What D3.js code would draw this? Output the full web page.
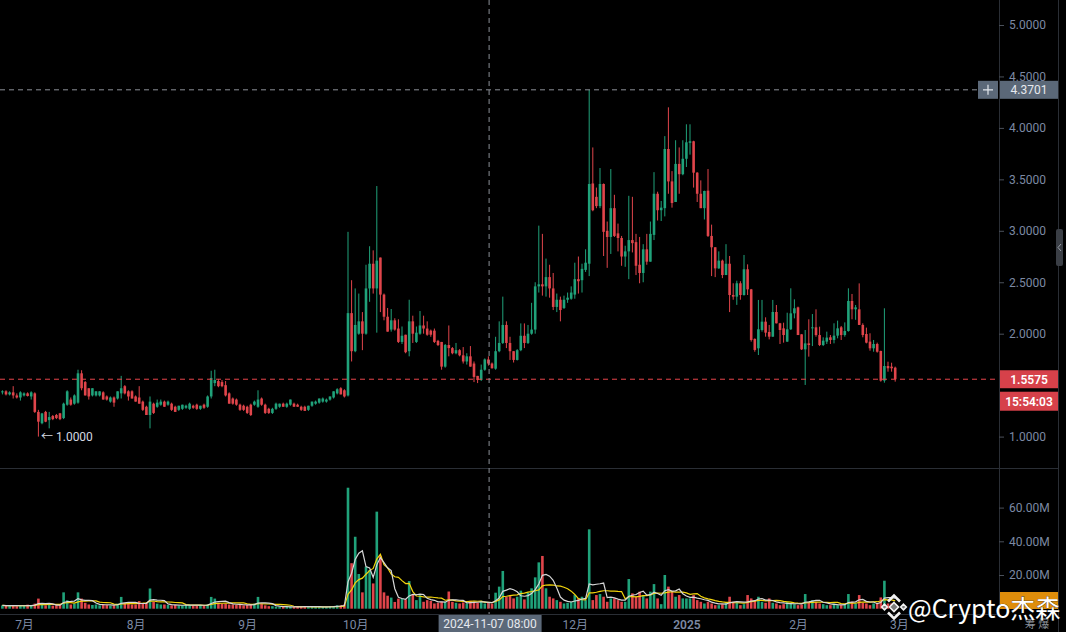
<!DOCTYPE html>
<html lang="zh">
<head>
<meta charset="utf-8">
<title>Daily candles</title>
<script src="https://d3js.org/d3.v7.min.js"></script>
<style>
  body { margin: 0; background: #000; overflow: hidden; }
  text { font-family: Roboto, "Noto Sans CJK SC", sans-serif; }
</style>
</head>
<body>
<svg id="chart"></svg>
<script>
// first candle is 2024-06-25, one candle per day
const startDay = Date.UTC(2024, 5, 25);

// [open, high, low, close]
const ohlc = [
  [1.43,1.45,1.41,1.44],[1.44,1.45,1.40,1.41],[1.41,1.44,1.40,1.43],[1.43,1.49,1.37,1.40],[1.40,1.42,1.37,1.38],
  [1.38,1.44,1.35,1.43],[1.40,1.43,1.39,1.42],[1.42,1.43,1.39,1.395],[1.39,1.44,1.36,1.43],
  // jul 4
  [1.42,1.43,1.23,1.24],[1.24,1.26,1.00,1.145],[1.13,1.23,1.12,1.225],[1.24,1.25,1.14,1.145],[1.16,1.24,1.08,1.19],
  [1.20,1.21,1.16,1.17],[1.21,1.22,1.17,1.18],[1.226,1.23,1.16,1.17],[1.18,1.33,1.17,1.32],[1.31,1.45,1.30,1.44],
  [1.36,1.38,1.30,1.31],[1.32,1.41,1.31,1.40],[1.33,1.65,1.32,1.615],[1.615,1.645,1.45,1.47],[1.53,1.54,1.40,1.40],
  [1.47,1.47,1.36,1.39],[1.40,1.47,1.39,1.47],[1.40,1.44,1.39,1.44],[1.40,1.44,1.39,1.44],[1.43,1.44,1.36,1.36],
  [1.39,1.40,1.35,1.36],[1.34,1.39,1.33,1.38],[1.38,1.39,1.29,1.33],[1.37,1.44,1.36,1.44],[1.42,1.59,1.37,1.47],
  [1.49,1.50,1.41,1.42],[1.44,1.45,1.35,1.39],[1.44,1.45,1.37,1.37],[1.39,1.40,1.34,1.34],[1.38,1.49,1.32,1.32],
  // aug 3
  [1.34,1.35,1.25,1.26],[1.29,1.30,1.21,1.21],[1.21,1.39,1.08,1.34],[1.32,1.33,1.22,1.23],[1.29,1.36,1.28,1.33],
  [1.31,1.36,1.30,1.34],[1.34,1.35,1.29,1.29],[1.31,1.35,1.30,1.34],[1.32,1.33,1.25,1.26],[1.29,1.30,1.24,1.24],
  [1.26,1.30,1.25,1.30],[1.27,1.31,1.26,1.31],[1.28,1.31,1.27,1.30],[1.27,1.33,1.26,1.32],[1.30,1.31,1.27,1.28],
  [1.31,1.32,1.26,1.27],[1.27,1.30,1.26,1.30],[1.31,1.32,1.27,1.28],[1.29,1.40,1.28,1.39],[1.39,1.64,1.37,1.57],
  [1.52,1.65,1.49,1.55],[1.54,1.56,1.48,1.49],[1.53,1.55,1.48,1.49],[1.50,1.54,1.39,1.40],[1.42,1.43,1.32,1.32],
  [1.37,1.38,1.31,1.32],[1.36,1.37,1.30,1.31],[1.31,1.32,1.25,1.26],[1.30,1.31,1.25,1.26],[1.29,1.30,1.22,1.23],
  // sep 2
  [1.31,1.32,1.20,1.21],[1.31,1.35,1.30,1.34],[1.29,1.45,1.28,1.36],[1.37,1.38,1.30,1.31],[1.31,1.32,1.22,1.23],
  [1.27,1.28,1.22,1.23],[1.23,1.28,1.22,1.27],[1.27,1.33,1.26,1.32],[1.29,1.32,1.28,1.32],[1.32,1.33,1.29,1.29],
  [1.29,1.33,1.28,1.32],[1.31,1.36,1.30,1.36],[1.32,1.33,1.29,1.29],[1.31,1.32,1.29,1.29],[1.29,1.30,1.25,1.26],
  [1.29,1.30,1.25,1.25],[1.26,1.30,1.25,1.30],[1.30,1.34,1.29,1.34],[1.32,1.35,1.31,1.34],[1.33,1.37,1.32,1.37],
  [1.34,1.38,1.33,1.37],[1.34,1.37,1.33,1.36],[1.36,1.39,1.35,1.39],[1.38,1.44,1.37,1.44],[1.42,1.47,1.41,1.46],
  [1.47,1.48,1.41,1.41],[1.45,1.46,1.38,1.39],
  // sep 28
  [1.40,2.99,1.39,2.20],[2.20,2.52,1.73,1.83],[1.83,2.44,1.82,2.085],[2.00,2.39,1.99,2.12],[2.12,2.21,1.84,2.00],
  [2.00,2.67,1.99,2.44],[2.44,2.85,2.31,2.68],[2.68,2.81,2.39,2.44],[2.44,3.435,2.01,2.71],[2.74,2.74,2.21,2.38],
  [2.38,2.39,2.13,2.165],[2.165,2.25,2.02,2.02],[2.04,2.24,2.02,2.13],[2.13,2.15,2.03,2.04],[2.05,2.14,1.91,1.92],
  [1.92,2.07,1.90,1.98],[1.99,1.99,1.81,1.82],[1.83,2.33,1.78,2.12],[2.12,2.175,1.91,2.00],[1.92,2.07,1.91,2.01],
  [2.00,2.22,1.99,2.08],[2.08,2.175,2.00,2.05],[2.05,2.12,1.98,1.99],[2.03,2.04,1.97,1.99],[2.03,2.05,1.91,1.92],
  [1.93,1.94,1.88,1.89],[1.92,1.92,1.65,1.68],[1.68,1.90,1.67,1.89],[1.89,2.08,1.78,1.86],[1.86,1.87,1.80,1.81],
  [1.81,1.91,1.80,1.84],[1.84,1.85,1.78,1.79],[1.79,1.87,1.71,1.73],[1.73,1.81,1.70,1.78],[1.78,1.88,1.68,1.68],
  [1.71,1.73,1.53,1.58],[1.59,1.59,1.52,1.55],[1.55,1.70,1.54,1.65],[1.65,1.76,1.64,1.75],[1.75,1.78,1.69,1.71],
  // nov 8
  [1.71,1.72,1.66,1.665],[1.66,1.97,1.65,1.83],[1.83,2.12,1.82,1.91],[1.91,2.36,1.90,2.085],[2.085,2.12,1.86,1.91],
  [1.91,1.97,1.745,1.83],[1.83,1.83,1.72,1.745],[1.745,1.85,1.74,1.84],[1.84,2.10,1.83,1.98],[1.98,2.10,1.86,1.91],
  [1.91,2.085,1.90,2.00],[2.00,2.30,1.99,2.04],[2.04,2.50,2.00,2.46],[2.46,3.05,2.40,2.48],[2.48,2.97,2.37,2.46],
  [2.46,2.73,2.36,2.55],[2.55,2.67,2.35,2.44],[2.44,2.59,2.23,2.26],[2.26,2.39,2.21,2.33],[2.33,2.36,2.12,2.23],
  [2.25,2.37,2.24,2.33],[2.33,2.40,2.30,2.35],
  // nov 30
  [2.34,2.46,2.33,2.40],[2.38,2.69,2.34,2.53],[2.53,2.75,2.39,2.51],[2.52,2.68,2.40,2.63],[2.62,2.82,2.60,2.69],
  [2.68,4.3701,2.56,3.455],[3.46,3.81,3.19,3.20],[3.33,3.42,3.22,3.24],[3.24,3.61,3.22,3.455],[3.455,3.46,2.755,2.99],
  [3.00,3.09,2.64,2.94],[2.94,3.60,2.775,3.22],[3.22,3.35,2.94,2.95],[2.975,3.07,2.80,2.93],[2.93,2.95,2.66,2.75],
  [2.75,2.855,2.65,2.80],[2.80,3.34,2.53,2.91],[2.91,3.33,2.79,2.88],[2.89,2.97,2.57,2.66],[2.67,2.94,2.49,2.59],
  [2.59,2.87,2.50,2.82],[2.82,2.97,2.67,2.70],[2.70,3.09,2.70,2.97],[2.96,3.57,2.91,3.36],[3.36,3.38,3.10,3.20],
  [3.20,3.29,3.095,3.225],[3.22,3.92,3.14,3.795],[3.795,4.20,3.36,3.48],[3.48,3.58,3.225,3.27],[3.28,3.88,3.28,3.65],
  [3.65,3.81,3.36,3.55],[3.55,3.88,3.54,3.70],[3.70,4.035,3.62,3.86],[3.855,4.035,3.74,3.87],[3.87,3.875,3.42,3.565],
  [3.565,3.57,3.28,3.36],[3.36,3.49,3.22,3.22],[3.22,3.39,3.11,3.387],
  // jan 7
  [3.39,3.60,2.94,2.95],[2.95,3.06,2.56,2.84],[2.84,2.84,2.55,2.635],[2.635,2.80,2.63,2.71],[2.71,2.72,2.54,2.57],
  [2.57,2.87,2.57,2.68],[2.68,2.755,2.21,2.376],[2.376,2.49,2.33,2.36],[2.36,2.515,2.28,2.49],[2.49,2.51,2.33,2.376],
  [2.376,2.765,2.37,2.626],[2.626,2.674,2.376,2.431],[2.431,2.435,1.923,1.939],[1.949,1.955,1.825,1.842],[1.858,2.328,1.793,2.043],
  [2.036,2.328,2.02,2.117],[2.117,2.159,1.971,2.01],[2.017,2.085,1.945,1.971],[1.971,2.328,1.97,2.211],[2.211,2.279,2.10,2.101],
  [2.101,2.105,1.90,2.036],[2.052,2.107,1.913,1.987],[1.923,2.204,1.92,2.043],[2.043,2.441,2.036,2.198],[2.198,2.334,2.149,2.247],
  [2.256,2.263,1.987,1.987],[1.994,1.995,1.842,1.848],[1.848,2.036,1.502,1.906],[1.906,2.140,1.777,1.890],[2.062,2.191,1.880,2.062],
  [2.062,2.237,1.971,1.987],[1.987,2.068,1.880,1.890],[1.890,1.965,1.880,1.932],[1.923,2.02,1.90,1.962],[1.965,1.987,1.90,1.939],
  [1.939,2.101,1.906,1.981],[1.981,2.127,1.955,2.052],[2.062,2.075,1.939,1.987],[1.987,2.11,1.971,2.026],[2.026,2.441,2.02,2.318],
  [2.318,2.386,2.14,2.237],[2.237,2.279,2.135,2.256],[2.237,2.489,2.085,2.085],[2.085,2.101,1.965,1.987],[1.997,2.059,1.906,1.913],
  [1.923,2.004,1.835,1.858],[1.858,1.939,1.825,1.90],[1.90,1.913,1.816,1.825],[1.832,1.835,1.534,1.544],[1.544,2.247,1.524,1.686],
  [1.686,1.728,1.631,1.664],[1.68,1.718,1.631,1.664],[1.670,1.68,1.534,1.5575]
];

// daily volume, millions
const volume = [
  2.0,1.6,1.8,2.2,1.5,1.7,1.6,2.4,2.0,
  3.0,6.0,2.2,2.0,2.5,1.8,2.0,2.3,
  9.7,5.0,2.5,3.0,9.7,6.0,
  3.5,2.5,2.2,2.5,2.0,2.8,2.2,1.8,2.0,3.0,
  7.0,3.5,3.0,2.5,2.5,4.5,3.0,3.5,
  12.0,
  4.0,3.0,2.5,2.5,2.2,2.0,2.2,1.8,2.0,2.4,2.2,2.0,1.8,2.2,2.0,2.5,
  7.0,6.0,
  3.5,3.0,3.0,2.5,2.5,2.2,2.5,2.0,2.2,2.5,3.0,
  7.0,
  3.0,2.0,1.5,1.5,1.2,1.2,1.0,1.0,1.2,1.0,1.0,1.2,1.5,1.2,1.0,1.0,1.2,1.0,1.0,1.5,1.5,2.0,2.0,2.5,
  71.8,27.0,42.7,20.6,9.7,24.9,22.9,15.0,57.6,31.3,
  9.7,7.7,6.6,4.0,6.0,6.0,5.5,16.4,8.5,5.1,
  8.0,4.1,5.1,4.6,3.1,3.5,4.1,4.1,10.2,4.1,
  3.5,3.1,3.7,3.1,4.7,4.1,3.5,
  4.7,3.1,3.5,3.0,9.5,13.1,22.4,7.1,7.5,6.1,
  7.1,10.7,5.5,9.5,12.1,18.6,27.5,31.3,12.1,7.1,
  6.1,5.1,4.1,3.1,3.5,4.1,8.1,6.1,7.1,5.1,
  47.1,5.1,8.1,8.7,7.1,4.1,6.1,6.1,5.1,4.1,
  4.1,17.6,9.1,7.1,10.1,8.1,6.1,10.1,14.6,6.1,
  2.7,20.0,13.1,10.1,7.1,8.1,6.1,6.1,6.1,8.1,
  5.1,4.1,3.1,4.1,3.1,2.1,2.1,2.7,3.5,7.1,
  4.1,3.5,2.1,2.7,8.1,6.1,4.7,7.1,4.1,3.5,
  6.1,3.5,3.1,2.1,2.7,4.1,3.1,2.7,2.1,2.5,
  8.7,4.1,5.1,4.1,3.1,2.7,2.1,2.1,3.1,2.1,
  2.1,2.5,8.7,4.1,3.1,8.1,3.5,3.1,2.1,3.1,
  3.1,6.7,16.6,3.1,3.1,2.1
];

const priceTicks = [1, 2, 2.5, 3, 3.5, 4, 4.5, 5];
const volumeTicks = [20, 40, 60];
// 11月 sits under the crosshair date label, so it is not drawn
const monthTicks = [
  ["2024-07-01", "7月"], ["2024-08-01", "8月"], ["2024-09-01", "9月"], ["2024-10-01", "10月"],
  ["2024-12-01", "12月"], ["2025-01-01", "2025"], ["2025-02-01", "2月"], ["2025-03-01", "3月"]
];
const lastPrice = 1.5575;
const countdown = "15:54:03";
const crossPrice = 4.3701;
const crossDate = "2024-11-07";
const crossLabel = "2024-11-07 08:00";
const lowMark = 1.0;

const W = 1066, H = 632;
const plotRight = 999;
const green = "#20a27a", red = "#e0454b";
const axisText = "#7c89a3", lineCol = "#2a2e35";

const candles = ohlc.map((d, i) => ({
  date: new Date(startDay + i * 864e5),
  o: d[0], h: d[1], l: d[2], c: d[3], v: volume[i]
}));

const svg = d3.select("#chart").attr("width", W).attr("height", H);
svg.append("rect").attr("width", W).attr("height", H).attr("fill", "#000");

const x = d3.scaleUtc()
  .domain([startDay, Date.UTC(2025, 2, 1)])
  .range([2.4, 898.8]);
const bw = 2.6;

const yP = d3.scaleLinear().domain([1, 5]).range([436.6, 25]);
const yV = d3.scaleLinear().domain([0, 60]).range([608.7, 507.6]);

// panel frame
svg.append("line").attr("x1", 0).attr("x2", 1058).attr("y1", 468.5).attr("y2", 468.5).attr("stroke", lineCol);
svg.append("line").attr("x1", 0).attr("x2", plotRight).attr("y1", 614.5).attr("y2", 614.5).attr("stroke", lineCol);
svg.append("line").attr("x1", plotRight + 0.5).attr("x2", plotRight + 0.5).attr("y1", 0).attr("y2", 614).attr("stroke", lineCol);
svg.append("line").attr("x1", 1058.5).attr("x2", 1058.5).attr("y1", 0).attr("y2", H).attr("stroke", lineCol);
svg.append("rect").attr("x", 1056).attr("y", 229).attr("width", 7).attr("height", 37).attr("rx", 2).attr("fill", "#3a3e45");
svg.append("path").attr("d", "M1061,244 L1058,247.5 L1061,251").attr("fill", "none").attr("stroke", "#9aa0a8").attr("stroke-width", 1);

// candles
const cg = svg.append("g");
cg.selectAll("line.wick").data(candles).join("line")
  .attr("class", "wick")
  .attr("x1", d => x(d.date)).attr("x2", d => x(d.date))
  .attr("y1", d => yP(d.h)).attr("y2", d => yP(d.l))
  .attr("stroke", d => d.c >= d.o ? green : red)
  .attr("stroke-width", 1);
cg.selectAll("rect.body").data(candles).join("rect")
  .attr("class", "body")
  .attr("x", d => x(d.date) - bw / 2)
  .attr("width", bw)
  .attr("y", d => yP(Math.max(d.o, d.c)))
  .attr("height", d => Math.max(1, Math.abs(yP(d.o) - yP(d.c))))
  .attr("fill", d => d.c >= d.o ? green : red);

// volume bars
svg.append("g").selectAll("rect").data(candles).join("rect")
  .attr("x", d => x(d.date) - bw / 2)
  .attr("width", bw)
  .attr("y", d => yV(d.v))
  .attr("height", d => yV(0) - yV(d.v))
  .attr("fill", d => d.c >= d.o ? green : red);

// volume moving averages
function movingAvg(n) {
  return candles.map((d, i) => {
    const win = candles.slice(Math.max(0, i - n + 1), i + 1);
    return { date: d.date, v: d3.mean(win, w => w.v) };
  });
}
const maLine = d3.line().x(d => x(d.date)).y(d => yV(d.v));
svg.append("path").attr("d", maLine(movingAvg(10)))
  .attr("fill", "none").attr("stroke", "#f2d40c").attr("stroke-width", 1.2);
svg.append("path").attr("d", maLine(movingAvg(5)))
  .attr("fill", "none").attr("stroke", "#d6d6d6").attr("stroke-width", 1.2);

// price axis
const pAxis = svg.append("g").attr("transform", `translate(${plotRight},0)`)
  .call(d3.axisRight(yP).tickValues(priceTicks).tickSize(5).tickPadding(5).tickFormat(d3.format(".4f")));
pAxis.select(".domain").remove();
pAxis.selectAll("line").attr("stroke", "#4a505a");
pAxis.selectAll("text").attr("fill", axisText).style("font-size", "12px");

// volume axis
const vAxis = svg.append("g").attr("transform", `translate(${plotRight},0)`)
  .call(d3.axisRight(yV).tickValues(volumeTicks).tickSize(5).tickPadding(5).tickFormat(d => d.toFixed(2) + "M"));
vAxis.select(".domain").remove();
vAxis.selectAll("line").attr("stroke", "#4a505a");
vAxis.selectAll("text").attr("fill", axisText).style("font-size", "12px");

// time axis
const tAxis = svg.append("g").attr("transform", "translate(0,614)")
  .call(d3.axisBottom(x)
    .tickValues(monthTicks.map(m => new Date(m[0] + "T00:00:00Z")))
    .tickSize(0).tickPadding(6)
    .tickFormat((d, i) => monthTicks[i][1]));
tAxis.select(".domain").remove();
tAxis.selectAll("text").attr("fill", axisText).style("font-size", "12px")
  .style("font-weight", (d, i) => monthTicks[i][1] === "2025" ? "600" : "400");

// last price line and labels
const yLast = yP(lastPrice);
svg.append("line").attr("x1", 0).attr("x2", plotRight).attr("y1", yLast).attr("y2", yLast)
  .attr("stroke", "#e8454c").attr("stroke-dasharray", "5,4");
svg.append("rect").attr("x", 1000).attr("y", yLast - 9).attr("width", 58).attr("height", 18).attr("fill", "#d6414a");
svg.append("text").attr("x", 1029).attr("y", yLast + 4.5).attr("text-anchor", "middle")
  .attr("fill", "#fff").style("font-size", "12px").style("font-weight", "600").text(lastPrice.toFixed(4));
svg.append("rect").attr("x", 1000).attr("y", yLast + 12.5).attr("width", 58).attr("height", 19).attr("fill", "#d6414a");
svg.append("text").attr("x", 1029).attr("y", yLast + 26.5).attr("text-anchor", "middle")
  .attr("fill", "#fff").style("font-size", "12px").style("font-weight", "600").text(countdown);

// crosshair
const xCross = x(new Date(crossDate + "T08:00:00Z")) - 0.5;
const yCross = yP(crossPrice);
svg.append("line").attr("x1", xCross).attr("x2", xCross).attr("y1", 0).attr("y2", 614)
  .attr("stroke", "#8c9098").attr("stroke-dasharray", "5,4");
svg.append("line").attr("x1", 0).attr("x2", 978).attr("y1", yCross).attr("y2", yCross)
  .attr("stroke", "#8c9098").attr("stroke-dasharray", "5,4");
svg.append("rect").attr("x", 978).attr("y", yCross - 9).attr("width", 20).attr("height", 18).attr("fill", "#5b6878");
svg.append("path").attr("d", `M983,${yCross}H993M988,${yCross - 5}V${yCross + 5}`)
  .attr("stroke", "#e2e6ec").attr("stroke-width", 1.2);
svg.append("rect").attr("x", 1000).attr("y", yCross - 9).attr("width", 58).attr("height", 18).attr("fill", "#5b6878");
svg.append("text").attr("x", 1029).attr("y", yCross + 4.5).attr("text-anchor", "middle")
  .attr("fill", "#e6e9ee").style("font-size", "12px").text(crossPrice.toFixed(4));
svg.append("rect").attr("x", xCross - 50.5).attr("y", 615).attr("width", 103).attr("height", 17).attr("fill", "#5b6878");
svg.append("text").attr("x", xCross + 1).attr("y", 628).attr("text-anchor", "middle")
  .attr("fill", "#e6e9ee").style("font-size", "12px").text(crossLabel);

// low marker
svg.append("text").attr("x", 41).attr("y", yP(lowMark) + 4)
  .attr("fill", "#d5d9e0").style("font-size", "12px").text("← " + lowMark.toFixed(4));

// volume label box and watermark
svg.append("rect").attr("x", 1000).attr("y", 592).attr("width", 58).attr("height", 17).attr("fill", "#de8d0b");
svg.append("text").attr("x", 1037).attr("y", 628).attr("text-anchor", "middle")
  .attr("fill", "#8a9099").style("font-size", "11px").text("筹 爆");
const logo = svg.append("g").attr("transform", "translate(894,607)")
  .attr("fill", "#7a7a7a").attr("stroke", "#f2f2f2").attr("stroke-width", 1.6);
logo.append("path").attr("d", "M0,-4.5L4.5,0L0,4.5L-4.5,0Z");
logo.append("path").attr("d", "M-9.5,-2.8L-6.7,0L-9.5,2.8L-12.3,0Z");
logo.append("path").attr("d", "M9.5,-2.8L12.3,0L9.5,2.8L6.7,0Z");
logo.append("path").attr("d", "M-6,-5.5L0,-11.5L6,-5.5").attr("fill", "none").attr("stroke-width", 2.6);
logo.append("path").attr("d", "M-6,5.5L0,11.5L6,5.5").attr("fill", "none").attr("stroke-width", 2.6);
svg.append("text").attr("x", 908).attr("y", 618)
  .attr("fill", "#fff").attr("stroke", "#222").attr("stroke-width", 0.6).style("paint-order", "stroke")
  .style("font-size", "25px").style("font-family", "'Noto Sans CJK SC', sans-serif")
  .text("@Crypto杰森");
</script>
</body>
</html>
